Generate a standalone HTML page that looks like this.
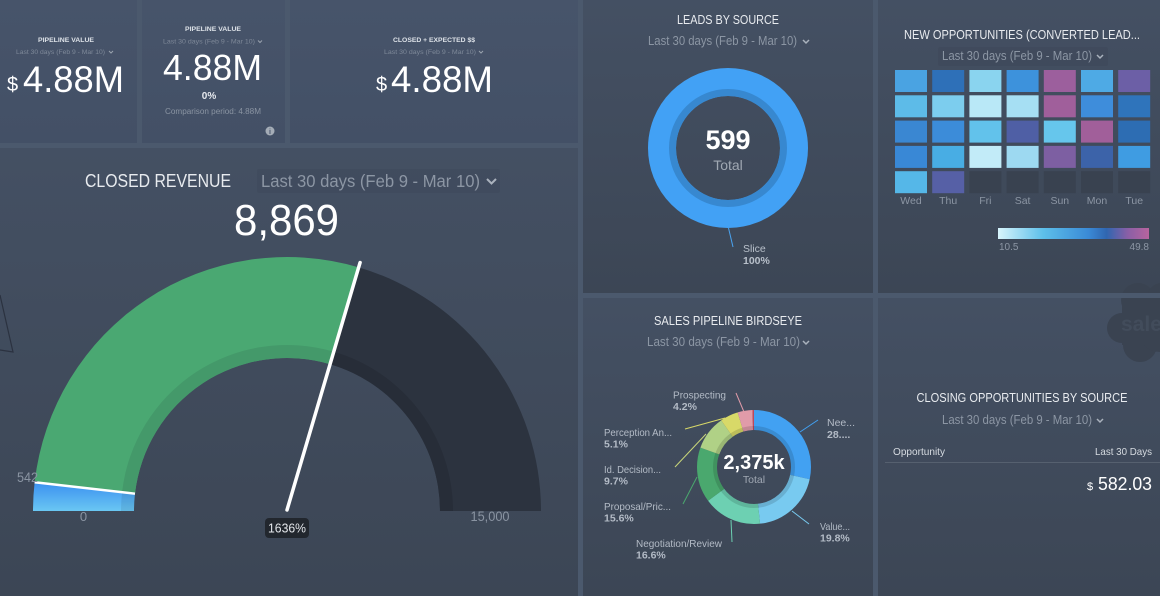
<!DOCTYPE html>
<html><head><meta charset="utf-8"><style>
html,body{margin:0;padding:0;width:1160px;height:596px;overflow:hidden;background:#4b596d;}
svg{display:block;font-family:"Liberation Sans",sans-serif;}
</style></head><body>
<svg width="1160" height="596" viewBox="0 0 1160 596" xmlns="http://www.w3.org/2000/svg">
<defs>
<linearGradient id="pg" x1="0" y1="0" x2="0" y2="1"><stop offset="0" stop-color="#445063"/><stop offset="1" stop-color="#3c4655"/></linearGradient>
<linearGradient id="tg" x1="0" y1="0" x2="0" y2="1"><stop offset="0" stop-color="#47546a"/><stop offset="1" stop-color="#435066"/></linearGradient>
<linearGradient id="bg" gradientUnits="userSpaceOnUse" x1="0" y1="482" x2="0" y2="511"><stop offset="0" stop-color="#3a8ff0"/><stop offset="1" stop-color="#6ac7f3"/></linearGradient>
<linearGradient id="lg" x1="0" y1="0" x2="1" y2="0"><stop offset="0" stop-color="#d8f5fc"/><stop offset="0.3" stop-color="#5dbfea"/><stop offset="0.6" stop-color="#3a8ad6"/><stop offset="0.72" stop-color="#3066b0"/><stop offset="0.86" stop-color="#8a5fa6"/><stop offset="1" stop-color="#b8649e"/></linearGradient>
</defs>
<rect width="1160" height="596" fill="#4b596d"/>

<!-- panels -->
<rect x="0" y="0" width="137" height="143" fill="url(#tg)"/>
<rect x="142" y="0" width="143" height="143" fill="url(#tg)"/>
<rect x="290" y="0" width="288" height="143" fill="url(#tg)"/>
<rect x="0" y="148" width="578" height="448" fill="url(#pg)"/>
<rect x="583" y="0" width="290" height="293" fill="url(#pg)"/>
<rect x="878" y="0" width="282" height="293" fill="url(#pg)"/>
<rect x="583" y="298" width="290" height="298" fill="url(#pg)"/>
<rect x="878" y="298" width="282" height="298" fill="url(#pg)"/>

<!-- salesforce cloud watermark -->
<g fill="#3a4351">
<circle cx="1138" cy="300" r="17"/>
<circle cx="1162" cy="298" r="15"/>
<circle cx="1122" cy="328" r="15"/>
<circle cx="1140" cy="345" r="17"/>
<circle cx="1160" cy="330" r="22"/>
<rect x="1122" y="300" width="40" height="45"/>
</g>
<text x="1121" y="331" font-size="21" font-weight="bold" fill="#424c5b">sales</text>
<rect x="878" y="293" width="282" height="5" fill="#4b596d"/>

<!-- Tile 1 -->
<text x="66" y="42" text-anchor="middle" font-size="6.8" font-weight="bold" fill="#dde2e8" textLength="56" lengthAdjust="spacingAndGlyphs">PIPELINE VALUE</text>
<text x="16" y="54" font-size="6.8" fill="#7e8898" textLength="89" lengthAdjust="spacingAndGlyphs">Last 30 days (Feb 9 - Mar 10)</text>
<polyline points="109,51 111,53 113,51" fill="none" stroke="#9aa3ae" stroke-width="1"/>
<text x="7" y="91" font-size="20" fill="#ffffff">$</text>
<text x="23" y="92" font-size="37" fill="#ffffff" textLength="101" lengthAdjust="spacingAndGlyphs">4.88M</text>

<!-- Tile 2 -->
<text x="213" y="31" text-anchor="middle" font-size="6.8" font-weight="bold" fill="#dde2e8" textLength="56" lengthAdjust="spacingAndGlyphs">PIPELINE VALUE</text>
<text x="163" y="43.5" font-size="6.8" fill="#7e8898" textLength="92" lengthAdjust="spacingAndGlyphs">Last 30 days (Feb 9 - Mar 10)</text>
<polyline points="258,40.5 260,42.5 262,40.5" fill="none" stroke="#9aa3ae" stroke-width="1"/>
<text x="163" y="80" font-size="36" fill="#ffffff" textLength="99" lengthAdjust="spacingAndGlyphs">4.88M</text>
<text x="209" y="99" text-anchor="middle" font-size="10" font-weight="bold" fill="#e6e9ee">0%</text>
<text x="213" y="114" text-anchor="middle" font-size="8" fill="#8a94a2" textLength="96" lengthAdjust="spacingAndGlyphs">Comparison period: 4.88M</text>
<circle cx="270" cy="131" r="4.5" fill="#a4acb6"/>
<text x="270" y="134" text-anchor="middle" font-size="7" font-weight="bold" fill="#46536a">i</text>

<!-- Tile 3 -->
<text x="434" y="42" text-anchor="middle" font-size="6.8" font-weight="bold" fill="#dde2e8" textLength="82" lengthAdjust="spacingAndGlyphs">CLOSED + EXPECTED $$</text>
<text x="384" y="54" font-size="6.8" fill="#7e8898" textLength="92" lengthAdjust="spacingAndGlyphs">Last 30 days (Feb 9 - Mar 10)</text>
<polyline points="479,51 481,53 483,51" fill="none" stroke="#9aa3ae" stroke-width="1"/>
<text x="376" y="91" font-size="20" fill="#ffffff">$</text>
<text x="391" y="92" font-size="37" fill="#ffffff" textLength="102" lengthAdjust="spacingAndGlyphs">4.88M</text>

<!-- Closed revenue -->
<text x="85" y="187" font-size="18" fill="#e8ebef" textLength="146" lengthAdjust="spacingAndGlyphs">CLOSED REVENUE</text>
<rect x="257" y="169" width="243" height="24" rx="2" fill="#000" fill-opacity="0.04"/>
<text x="261" y="187" font-size="17.5" fill="#8c96a4" textLength="219" lengthAdjust="spacingAndGlyphs">Last 30 days (Feb 9 - Mar 10)</text>
<polyline points="487,179 491.5,183.5 496,179" fill="none" stroke="#aab2bd" stroke-width="2"/>
<text x="286.5" y="235" text-anchor="middle" font-size="44" fill="#ffffff" textLength="105" lengthAdjust="spacingAndGlyphs">8,869</text>

<polyline points="0,295 13,352 0,350" fill="none" stroke="#2b3240" stroke-width="1.2"/>

<!-- gauge -->
<path d="M33 511 A254 254 0 0 1 34.63 482.25 L134.98 493.68 A153 153 0 0 0 134 511 Z" fill="url(#bg)"/>
<path d="M121 511 A166 166 0 0 1 122.07 492.21 L134.98 493.68 A153 153 0 0 0 134 511 Z" fill="#000" fill-opacity="0.08"/>
<path d="M34.63 482.25 A254 254 0 0 1 358.71 267.34 L330.20 364.23 A153 153 0 0 0 134.98 493.68 Z" fill="#4aa872"/>
<path d="M122.07 492.21 A166 166 0 0 1 333.87 351.75 L330.20 364.23 A153 153 0 0 0 134.98 493.68 Z" fill="#44996a"/>
<path d="M358.71 267.34 A254 254 0 0 1 541 511 L440 511 A153 153 0 0 0 330.20 364.23 Z" fill="#2c333f"/>
<path d="M333.87 351.75 A166 166 0 0 1 453 511 L440 511 A153 153 0 0 0 330.20 364.23 Z" fill="#272d38"/>
<line x1="34.63" y1="482.25" x2="134.98" y2="493.68" stroke="#ffffff" stroke-width="2.5"/>
<line x1="287" y1="510" x2="360.1" y2="262.5" stroke="#ffffff" stroke-width="3.5" stroke-linecap="round"/>
<text x="17" y="482" font-size="14" fill="#8a94a2" textLength="21" lengthAdjust="spacingAndGlyphs">542</text>
<text x="83.5" y="521" text-anchor="middle" font-size="13" fill="#8a94a2">0</text>
<text x="490" y="521" text-anchor="middle" font-size="13.5" fill="#8a94a2" textLength="39" lengthAdjust="spacingAndGlyphs">15,000</text>
<rect x="265" y="518" width="44" height="20" rx="4" fill="#22272e"/>
<text x="287" y="532.5" text-anchor="middle" font-size="13" fill="#e4e7eb" textLength="38" lengthAdjust="spacingAndGlyphs">1636%</text>

<!-- Leads by source -->
<text x="728" y="24" text-anchor="middle" font-size="12.5" fill="#e8ebef" textLength="102" lengthAdjust="spacingAndGlyphs">LEADS BY SOURCE</text>
<text x="648" y="45" font-size="12.5" fill="#8c96a4" textLength="149" lengthAdjust="spacingAndGlyphs">Last 30 days (Feb 9 - Mar 10)</text>
<polyline points="803,40 806,43 809,40" fill="none" stroke="#aab2bd" stroke-width="1.5"/>
<circle cx="728" cy="148" r="66" fill="none" stroke="#42a1f5" stroke-width="28"/>
<circle cx="728" cy="148" r="55.5" fill="none" stroke="#3788d0" stroke-width="7"/>
<text x="728" y="149" text-anchor="middle" font-size="27" font-weight="bold" fill="#ffffff">599</text>
<text x="728" y="170" text-anchor="middle" font-size="14" fill="#a0a8b3">Total</text>
<line x1="728.5" y1="228" x2="733" y2="247" stroke="#4aa3f0" stroke-width="1"/>
<text x="743" y="252" font-size="10.5" fill="#b8c0ca">Slice</text>
<text x="743" y="264" font-size="10.5" font-weight="bold" fill="#b8c0ca">100%</text>

<!-- New opportunities heatmap -->
<text x="1022" y="39" text-anchor="middle" font-size="12.5" fill="#e8ebef" textLength="236" lengthAdjust="spacingAndGlyphs">NEW OPPORTUNITIES (CONVERTED LEAD...</text>
<rect x="938" y="47" width="170" height="19" rx="2" fill="#000" fill-opacity="0.04"/>
<text x="942" y="60" font-size="12.5" fill="#8c96a4" textLength="150" lengthAdjust="spacingAndGlyphs">Last 30 days (Feb 9 - Mar 10)</text>
<polyline points="1097,55 1100,58 1103,55" fill="none" stroke="#aab2bd" stroke-width="1.5"/>
<g>
<rect x="895" y="70" width="32" height="22" fill="#4aa3e2"/>
<rect x="932.2" y="70" width="32" height="22" fill="#2e70b8"/>
<rect x="969.4" y="70" width="32" height="22" fill="#8ad4ef"/>
<rect x="1006.6" y="70" width="32" height="22" fill="#3d92dc"/>
<rect x="1043.8" y="70" width="32" height="22" fill="#9c5f9d"/>
<rect x="1081" y="70" width="32" height="22" fill="#4eaae5"/>
<rect x="1118.2" y="70" width="32" height="22" fill="#6c5fa6"/>

<rect x="895" y="95.3" width="32" height="22" fill="#5dbbe8"/>
<rect x="932.2" y="95.3" width="32" height="22" fill="#7ccdee"/>
<rect x="969.4" y="95.3" width="32" height="22" fill="#b9e8f7"/>
<rect x="1006.6" y="95.3" width="32" height="22" fill="#a6dff3"/>
<rect x="1043.8" y="95.3" width="32" height="22" fill="#a05f9b"/>
<rect x="1081" y="95.3" width="32" height="22" fill="#3e8ddb"/>
<rect x="1118.2" y="95.3" width="32" height="22" fill="#2f74bb"/>

<rect x="895" y="120.6" width="32" height="22" fill="#3a87d2"/>
<rect x="932.2" y="120.6" width="32" height="22" fill="#3c8cd9"/>
<rect x="969.4" y="120.6" width="32" height="22" fill="#62c2eb"/>
<rect x="1006.6" y="120.6" width="32" height="22" fill="#4f5fa5"/>
<rect x="1043.8" y="120.6" width="32" height="22" fill="#66c6ec"/>
<rect x="1081" y="120.6" width="32" height="22" fill="#a15f9a"/>
<rect x="1118.2" y="120.6" width="32" height="22" fill="#2d6db3"/>

<rect x="895" y="145.9" width="32" height="22" fill="#3988d6"/>
<rect x="932.2" y="145.9" width="32" height="22" fill="#48ade4"/>
<rect x="969.4" y="145.9" width="32" height="22" fill="#c2ebf8"/>
<rect x="1006.6" y="145.9" width="32" height="22" fill="#9dd9f1"/>
<rect x="1043.8" y="145.9" width="32" height="22" fill="#7d5fa2"/>
<rect x="1081" y="145.9" width="32" height="22" fill="#3c63a9"/>
<rect x="1118.2" y="145.9" width="32" height="22" fill="#3f9ce2"/>

<rect x="895" y="171.2" width="32" height="22" fill="#55b7e8"/>
<rect x="932.2" y="171.2" width="32" height="22" fill="#5660a6"/>
<rect x="969.4" y="171.2" width="32" height="22" fill="#394250"/>
<rect x="1006.6" y="171.2" width="32" height="22" fill="#394250"/>
<rect x="1043.8" y="171.2" width="32" height="22" fill="#394250"/>
<rect x="1081" y="171.2" width="32" height="22" fill="#394250"/>
<rect x="1118.2" y="171.2" width="32" height="22" fill="#394250"/>
</g>
<g font-size="10.5" fill="#8c96a4" text-anchor="middle">
<text x="911" y="204">Wed</text>
<text x="948.2" y="204">Thu</text>
<text x="985.4" y="204">Fri</text>
<text x="1022.6" y="204">Sat</text>
<text x="1059.8" y="204">Sun</text>
<text x="1097" y="204">Mon</text>
<text x="1134.2" y="204">Tue</text>
</g>
<rect x="998" y="228" width="151" height="11" fill="url(#lg)"/>
<text x="999" y="250" font-size="10" fill="#8c96a4">10.5</text>
<text x="1149" y="250" text-anchor="end" font-size="10" fill="#8c96a4">49.8</text>

<!-- Sales pipeline -->
<text x="728" y="325" text-anchor="middle" font-size="12.5" fill="#e8ebef" textLength="148" lengthAdjust="spacingAndGlyphs">SALES PIPELINE BIRDSEYE</text>
<text x="647" y="346" font-size="12.5" fill="#8c96a4" textLength="153" lengthAdjust="spacingAndGlyphs">Last 30 days (Feb 9 - Mar 10)</text>
<polyline points="803,341 806,344 809,341" fill="none" stroke="#aab2bd" stroke-width="1.5"/>
<g transform="rotate(-90 754 467)" fill="none" stroke-width="20">
<circle cx="754" cy="467" r="47" stroke="#42a1f2" stroke-dasharray="83.87 295.31" stroke-dashoffset="0"/>
<circle cx="754" cy="467" r="47" stroke="#78caf0" stroke-dasharray="58.47 295.31" stroke-dashoffset="-83.87"/>
<circle cx="754" cy="467" r="47" stroke="#6dd0b2" stroke-dasharray="49.02 295.31" stroke-dashoffset="-142.34"/>
<circle cx="754" cy="467" r="47" stroke="#4aa86e" stroke-dasharray="46.07 295.31" stroke-dashoffset="-191.36"/>
<circle cx="754" cy="467" r="47" stroke="#b0d186" stroke-dasharray="28.65 295.31" stroke-dashoffset="-237.43"/>
<circle cx="754" cy="467" r="47" stroke="#d8d968" stroke-dasharray="15.06 295.31" stroke-dashoffset="-266.08"/>
<circle cx="754" cy="467" r="47" stroke="#e09ba9" stroke-dasharray="12.40 295.31" stroke-dashoffset="-281.14"/>
<circle cx="754" cy="467" r="47" stroke="#c0485a" stroke-dasharray="1.77 295.31" stroke-dashoffset="-293.54"/>
</g>
<circle cx="754" cy="467" r="39" fill="none" stroke="#000" stroke-opacity="0.13" stroke-width="4"/>
<text x="754" y="469" text-anchor="middle" font-size="20" font-weight="bold" fill="#ffffff">2,375k</text>
<text x="754" y="483" text-anchor="middle" font-size="10.5" fill="#a0a8b3">Total</text>
<g stroke-width="1">
<line x1="736" y1="393" x2="744" y2="412" stroke="#e09ba9"/>
<line x1="685" y1="429" x2="725" y2="418" stroke="#d8d968"/>
<line x1="675" y1="467" x2="706" y2="434" stroke="#c9d67a"/>
<line x1="683" y1="504" x2="697" y2="477" stroke="#4aa86e"/>
<line x1="732" y1="542" x2="731" y2="520" stroke="#6dd0b2"/>
<line x1="809" y1="524" x2="792" y2="511" stroke="#78caf0"/>
<line x1="800" y1="432" x2="818" y2="420" stroke="#42a1f2"/>
</g>
<g font-size="10.5" fill="#b3bbc6">
<text x="673" y="398.5" textLength="53" lengthAdjust="spacingAndGlyphs">Prospecting</text>
<text x="673" y="410" font-weight="bold">4.2%</text>
<text x="604" y="436" textLength="68" lengthAdjust="spacingAndGlyphs">Perception An...</text>
<text x="604" y="447.5" font-weight="bold">5.1%</text>
<text x="604" y="473" textLength="57" lengthAdjust="spacingAndGlyphs">Id. Decision...</text>
<text x="604" y="484.5" font-weight="bold">9.7%</text>
<text x="604" y="510" textLength="67" lengthAdjust="spacingAndGlyphs">Proposal/Pric...</text>
<text x="604" y="521.5" font-weight="bold">15.6%</text>
<text x="636" y="547" textLength="86" lengthAdjust="spacingAndGlyphs">Negotiation/Review</text>
<text x="636" y="558.5" font-weight="bold">16.6%</text>
<text x="820" y="530" textLength="30" lengthAdjust="spacingAndGlyphs">Value...</text>
<text x="820" y="541.5" font-weight="bold">19.8%</text>
<text x="827" y="426">Nee...</text>
<text x="827" y="438" font-weight="bold">28....</text>
</g>

<!-- Closing opportunities -->
<text x="1022" y="402" text-anchor="middle" font-size="12.5" fill="#e8ebef" textLength="211" lengthAdjust="spacingAndGlyphs">CLOSING OPPORTUNITIES BY SOURCE</text>
<text x="942" y="424" font-size="12.5" fill="#8c96a4" textLength="150" lengthAdjust="spacingAndGlyphs">Last 30 days (Feb 9 - Mar 10)</text>
<polyline points="1097,419 1100,422 1103,419" fill="none" stroke="#aab2bd" stroke-width="1.5"/>
<text x="893" y="455" font-size="10.5" fill="#d6dbe1" textLength="52" lengthAdjust="spacingAndGlyphs">Opportunity</text>
<text x="1152" y="455" text-anchor="end" font-size="10.5" fill="#d6dbe1" textLength="57" lengthAdjust="spacingAndGlyphs">Last 30 Days</text>
<line x1="885" y1="462.5" x2="1160" y2="462.5" stroke="#56606f" stroke-width="1"/>
<text x="1087" y="490" font-size="11" fill="#ffffff">$</text>
<text x="1152" y="490" text-anchor="end" font-size="18" fill="#ffffff" textLength="54" lengthAdjust="spacingAndGlyphs">582.03</text>
</svg>
</body></html>
